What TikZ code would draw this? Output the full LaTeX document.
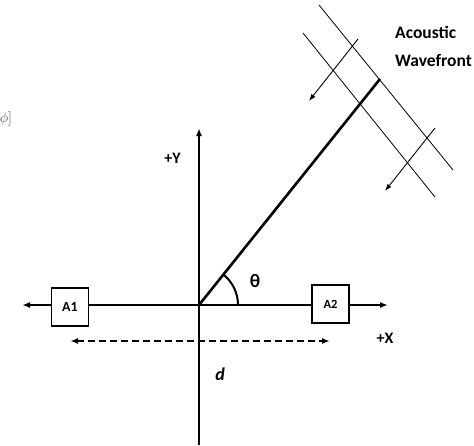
\documentclass[tikz,border=0pt]{standalone}
\usepackage{fontspec}
\setmainfont{Carlito}
\usetikzlibrary{arrows.meta}
\begin{document}
\begin{tikzpicture}[x=1pt,y=-1pt,
  axis/.style={line width=1.8pt,-{Latex[length=8pt,width=6pt]}},
  sensor/.style={draw,line width=1.8pt,fill=white,minimum width=37pt,minimum height=38pt,inner sep=0pt,font=\bfseries\fontsize{14}{15}\selectfont},
  wave/.style={line width=0.8pt},
  prop/.style={line width=0.9pt,-{Latex[length=7pt,width=5pt]}},
  lbl/.style={font=\bfseries\fontsize{16}{17}\selectfont,inner sep=0pt}]
\useasboundingbox (0,0) rectangle (474,445);
% coordinates
\coordinate (O) at (199,305);
\coordinate (ytop) at (199,128);
\coordinate (ybot) at (199,445);
\coordinate (xl) at (22,305);
\coordinate (xr) at (388,305);
\coordinate (S) at (380,79);
\coordinate (w1a) at (319,5);
\coordinate (w1b) at (453,170);
\coordinate (w2a) at (303,33);
\coordinate (w2b) at (435,197);
\coordinate (p1a) at (358,39);
\coordinate (p1b) at (309,101);
\coordinate (p2a) at (435,128);
\coordinate (p2b) at (385,191);
\coordinate (dl) at (70,341);
\coordinate (dr) at (330,341);
% sensors
\node[sensor] (A1) at (70,307) {A1};
\node[sensor,line width=2.4pt,font=\bfseries\fontsize{12.5}{14}\selectfont] (A2) at (330.5,304) {A2};
% axes
\draw[axis] (ybot) -- (ytop);
\draw[axis] (A1.west |- O) -- (xl);
\draw[line width=1.8pt] (A1.east |- O) -- (A2.west |- O);
\draw[axis] (A2.east |- O) -- (xr);
% source direction
\draw[line width=2.6pt] (O) -- (S);
% angle arc
\draw[line width=2pt] (O) ++(39,0) arc[start angle=0,end angle=-51,radius=39];
% wavefronts
\draw[wave] (w1a) -- (w1b);
\draw[wave] (w2a) -- (w2b);
\draw[prop] (p1a) -- (p1b);
\draw[prop] (p2a) -- (p2b);
% distance
\draw[line width=1.8pt,dash pattern=on 7pt off 4pt,{Latex[length=8pt,width=6pt]}-{Latex[length=8pt,width=6pt]}] (dl) -- (dr);
% labels
\node[lbl] (ly) at (172.5,158) {+Y};
\node[lbl] (lx) at (385,338) {+X};
\node[font=\bfseries\fontsize{19}{20}\selectfont,inner sep=0pt] (th) at (255,281) {θ};
\node[font=\bfseries\itshape\fontsize{18}{20}\selectfont,inner sep=0pt] (ld) at (220,374) {d};
\node[font=\bfseries\fontsize{17.5}{28}\selectfont,align=left,inner sep=0pt,anchor=base west] (aw) at (395,66) {Acoustic\\Wavefront};
\node[font=\fontsize{14}{15}\selectfont,text=black!70,inner sep=0pt] (phi) at (6,119) {$\phi]$};
\end{tikzpicture}
\end{document}
